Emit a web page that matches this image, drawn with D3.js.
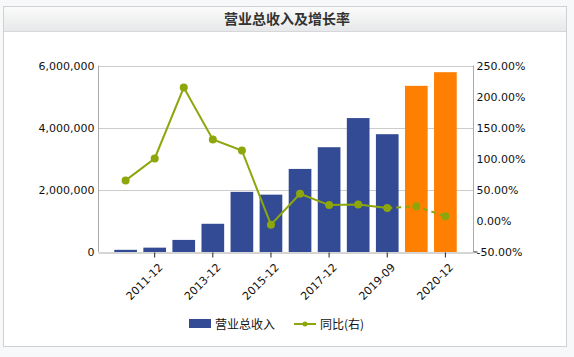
<!DOCTYPE html>
<html>
<head>
<meta charset="utf-8">
<script src="https://cdn.jsdelivr.net/npm/d3@7/dist/d3.min.js"></script>
<style>
	body { margin: 0; background: #f7f8fa; }
	svg { display: block; font-family: "DejaVu Sans", Verdana, sans-serif; }
</style>
</head>
<body>
<svg id="chart" width="574" height="357"></svg>
<script>
var categories = ["2010-12", "2011-12", "2012-12", "2013-12", "2014-12", "2015-12",
	"2016-12", "2017-12", "2018-12", "2019-09", "2019-12", "2020-12"];
var tickLabels = ["2011-12", "2013-12", "2015-12", "2017-12", "2019-09", "2020-12"];
var revenue = [70000, 140000, 390000, 910000, 1940000, 1850000,
	2680000, 3380000, 4320000, 3800000, 5360000, 5800000];
var forecast = [false, false, false, false, false, false,
	false, false, false, false, true, true];
var growth = [65.5, 100.8, 215.2, 131.4, 113.7, -6.0,
	43.9, 25.7, 26.8, 20.9, 23.6, 7.5];
var leftTicks = [0, 2000000, 4000000, 6000000];
var rightTicks = [-50, 0, 50, 100, 150, 200, 250];

var BLUE = "#334a94", ORANGE = "#ff7f00", GREEN = "#8ca60c", GRID = "#cccccc";
var plot = {left: 98, right: 473, top: 66, bottom: 252};

var svg = d3.select("#chart");

// panel frame + title bar
var defs = svg.append("defs");
var grad = defs.append("linearGradient").attr("id", "title_grad")
	.attr("x1", 0).attr("y1", 0).attr("x2", 0).attr("y2", 1);
grad.append("stop").attr("offset", "0%").attr("stop-color", "#fbfbfb");
grad.append("stop").attr("offset", "100%").attr("stop-color", "#e6e7e8");

svg.append("rect")
	.attr("x", 3.5).attr("y", 6.5)
	.attr("width", 563).attr("height", 340)
	.attr("fill", "#fff")
	.attr("stroke", "#cfd1d3");
svg.append("rect")
	.attr("x", 4).attr("y", 7)
	.attr("width", 562).attr("height", 25)
	.attr("fill", "url(#title_grad)");
svg.append("line")
	.attr("x1", 4).attr("x2", 566).attr("y1", 31.5).attr("y2", 31.5)
	.attr("stroke", "#d6d7d9");
svg.append("text")
	.attr("x", 287).attr("y", 24)
	.attr("text-anchor", "middle")
	.attr("font-size", 14)
	.attr("font-weight", "bold")
	.attr("fill", "#333")
	.attr("font-family", "'Noto Sans CJK SC', sans-serif")
	.text("营业总收入及增长率");

// scales
var x = d3.scaleBand()
	.domain(categories)
	.range([plot.left, plot.right])
	.paddingInner(0.22)
	.paddingOuter(0.56);
var yLeft = d3.scaleLinear().domain([0, 6000000]).range([plot.bottom, plot.top]);
var yRight = d3.scaleLinear().domain([-50, 250]).range([plot.bottom, plot.top]);

// grid lines
svg.append("g").selectAll("line")
	.data(leftTicks.slice(1))
	.enter()
	.append("line")
	.attr("x1", plot.left).attr("x2", plot.right)
	.attr("y1", function(d) { return Math.round(yLeft(d)) + 0.5; })
	.attr("y2", function(d) { return Math.round(yLeft(d)) + 0.5; })
	.attr("stroke", GRID);

// bars
svg.append("g").selectAll("rect")
	.data(revenue)
	.enter()
	.append("rect")
	.attr("x", function(d, i) { return x(categories[i]); })
	.attr("width", x.bandwidth())
	.attr("y", function(d) { return yLeft(d); })
	.attr("height", function(d) { return plot.bottom - yLeft(d); })
	.attr("fill", function(d, i) { return forecast[i] ? ORANGE : BLUE; });

// left axis
var axisL = svg.append("g")
	.attr("transform", "translate(" + (plot.left + 0.5) + ",0)")
	.call(d3.axisLeft(yLeft).tickValues(leftTicks).tickSize(0).tickPadding(4)
		.tickFormat(d3.format(",")));
// right axis
var axisR = svg.append("g")
	.attr("transform", "translate(" + (plot.right + 0.5) + ",0)")
	.call(d3.axisRight(yRight).tickValues(rightTicks).tickSize(0).tickPadding(3)
		.tickFormat(function(d) { return d.toFixed(2) + "%"; }));
// bottom axis
var axisB = svg.append("g")
	.attr("transform", "translate(0," + (plot.bottom + 0.5) + ")")
	.call(d3.axisBottom(x).tickValues(tickLabels).tickSize(5).tickSizeOuter(0));

[axisL, axisR, axisB].forEach(function(a) {
	a.select(".domain").attr("stroke", "#aaa");
	a.selectAll("text").attr("font-size", 11).attr("fill", "#111")
		.attr("font-family", "'DejaVu Sans', Verdana, sans-serif");
});
axisB.selectAll(".tick line").attr("stroke", "#222");
axisB.selectAll(".tick text")
	.attr("text-anchor", "end")
	.attr("dx", 0).attr("dy", 0)
	.attr("transform", "translate(3,10) rotate(-45)");
axisL.select(".domain").attr("d", "M0," + (plot.top - 0.5) + "V" + plot.bottom);
axisR.select(".domain").attr("d", "M0," + (plot.top - 0.5) + "V" + plot.bottom);
axisR.append("line").attr("x1", 0).attr("x2", 4)
	.attr("y1", plot.bottom).attr("y2", plot.bottom).attr("stroke", "#222");

// growth line: solid for actual, dashed for forecast
var pts = growth.map(function(d, i) {
	return {x: x(categories[i]) + x.bandwidth() / 2, y: yRight(d), f: forecast[i]};
});
var line = d3.line().x(function(d) { return d.x; }).y(function(d) { return d.y; });
var firstF = forecast.indexOf(true);
svg.append("path")
	.attr("d", line(pts.slice(0, firstF)))
	.attr("fill", "none").attr("stroke", GREEN).attr("stroke-width", 2);
svg.append("path")
	.attr("d", line(pts.slice(firstF - 1)))
	.attr("fill", "none").attr("stroke", GREEN).attr("stroke-width", 2)
	.attr("stroke-dasharray", "5,4");
svg.append("g").selectAll("circle")
	.data(pts)
	.enter()
	.append("circle")
	.attr("cx", function(d) { return d.x; })
	.attr("cy", function(d) { return d.y; })
	.attr("r", 4)
	.attr("fill", GREEN);

// legend
var legend = svg.append("g").attr("font-size", 12).attr("fill", "#111")
	.attr("font-family", "'Noto Sans CJK SC', sans-serif");
legend.append("rect")
	.attr("x", 189).attr("y", 319).attr("width", 22).attr("height", 9)
	.attr("fill", BLUE);
legend.append("text").attr("x", 215).attr("y", 329).text("营业总收入");
legend.append("line")
	.attr("x1", 294).attr("x2", 316).attr("y1", 324).attr("y2", 324)
	.attr("stroke", GREEN).attr("stroke-width", 2);
legend.append("circle").attr("cx", 305).attr("cy", 324).attr("r", 2.5).attr("fill", GREEN);
legend.append("text").attr("x", 320).attr("y", 329).text("同比(右)");
</script>
</body>
</html>
